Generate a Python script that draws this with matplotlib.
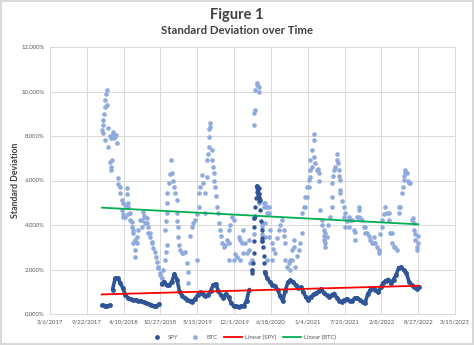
import numpy as np
import pandas as pd
import matplotlib
matplotlib.use('Agg')
import matplotlib.pyplot as plt
from matplotlib.collections import LineCollection
from matplotlib.ticker import FuncFormatter
import matplotlib.dates as mdates

plt.rcParams['font.family'] = ['Lato', 'DejaVu Sans']

# ---- data (percent) ----
# SPY rolling std, sampled every two weeks from 2017-12-15
spy_start = '2017-12-15'
spy_vals = [
    0.40, 0.38, 0.36, 0.40, 1.10, 1.60, 1.62, 1.40, 1.15, 0.85,
    0.72, 0.66, 0.63, 0.62, 0.60, 0.58, 0.54, 0.50, 0.46, 0.40,
    0.36, 0.34, 0.45, 1.35, 1.45, 1.30, 1.30, 1.45, 1.80, 1.55,
    1.00, 0.83, 0.72, 0.65, 0.60, 0.56, 0.68, 0.85, 0.98, 0.88,
    0.80, 0.85, 1.02, 1.30, 1.35, 1.05, 0.85, 0.72, 0.90, 0.75,
    0.50, 0.36, 0.34, 0.33, 0.35, 0.38, 0.60, 1.10, 2.00, 4.30,
    5.75, 5.20, 3.30, 1.90, 1.60, 1.45, 1.32, 1.26, 1.10, 0.82,
    0.58, 1.05, 1.42, 1.52, 1.45, 1.30, 1.17, 1.20, 1.00, 0.75,
    0.62, 0.78, 0.88, 0.93, 1.02, 1.12, 0.95, 0.85, 0.78, 0.85,
    0.92, 0.72, 0.58, 0.56, 0.64, 0.68, 0.60, 0.60, 0.72, 0.72,
    0.62, 0.52, 0.50, 0.90, 1.08, 1.15, 1.08, 0.98, 1.20, 1.40,
    1.50, 1.55, 1.38, 1.55, 1.75, 2.08, 2.10, 1.98, 1.85, 1.45,
    1.32, 1.20, 1.12, 1.22,
]

# extra SPY dots on the March 2020 spike (decimal year, value)
spy_spike_years = [2020.178, 2020.190, 2020.202, 2020.202, 2020.213, 2020.220, 2020.227, 2020.235,
                   2020.252, 2020.252, 2020.265, 2020.265, 2020.277, 2020.277, 2020.287, 2020.302,
                   2020.302, 2020.317, 2020.327, 2020.332, 2020.342, 2020.351, 2020.351, 2020.376]
spy_spike_vals = [1.83, 2.30, 2.73, 3.30, 3.92, 4.40, 4.82, 5.20,
                  5.72, 5.50, 5.60, 5.35, 5.66, 5.10, 5.40, 5.12,
                  4.67, 4.20, 3.78, 3.40, 3.03, 2.60, 2.28, 1.83]

# BTC rolling std, (decimal year, value)
btc_years = [
    2017.946, 2017.958, 2017.970, 2017.970, 2017.981, 2017.988, 2017.995, 2018.010, 2018.025, 2018.021,
    2017.995, 2018.045, 2018.045, 2018.070, 2018.077, 2018.095, 2018.107, 2018.119, 2018.129, 2018.144,
    2018.170, 2018.159, 2018.070, 2018.077, 2018.085, 2018.095,
    2018.193, 2018.193, 2018.219, 2018.219, 2018.244, 2018.244, 2018.256, 2018.268, 2018.268, 2018.293,
    2018.293, 2018.318, 2018.318, 2018.330, 2018.342, 2018.342, 2018.367, 2018.367, 2018.393, 2018.393,
    2018.416, 2018.416, 2018.416, 2018.442, 2018.442, 2018.442, 2018.467, 2018.467, 2018.491, 2018.516,
    2018.541, 2018.541, 2018.565, 2018.576, 2018.591, 2018.591, 2018.616, 2018.616, 2018.640, 2018.640,
    2018.665, 2018.665, 2018.690, 2018.690, 2018.714, 2018.739, 2018.754, 2018.764, 2018.788, 2018.788,
    2018.814, 2018.814, 2018.839,
    2018.858, 2018.888, 2018.903, 2018.913, 2018.888, 2018.903, 2018.922, 2018.922, 2018.922, 2018.952,
    2018.963, 2018.973, 2018.988, 2019.000, 2019.012, 2019.037, 2019.062, 2019.062, 2019.067, 2019.077,
    2019.086, 2019.097, 2019.111, 2019.137, 2019.156, 2019.186, 2019.211, 2019.235, 2019.223,
    2019.260, 2019.286, 2019.305, 2019.335, 2019.360, 2019.364, 2019.384, 2019.384, 2019.409, 2019.434,
    2019.454, 2019.483, 2019.483, 2019.508, 2019.508, 2019.521, 2019.533, 2019.533, 2019.543, 2019.558,
    2019.550, 2019.583, 2019.583, 2019.595, 2019.607, 2019.617, 2019.632, 2019.643, 2019.657, 2019.681,
    2019.692, 2019.707, 2019.719, 2019.732, 2019.756, 2019.781, 2019.806, 2019.830, 2019.830, 2019.830,
    2019.855, 2019.880, 2019.905, 2019.905, 2019.930, 2019.955, 2019.979, 2020.004, 2020.004, 2020.029,
    2020.053, 2020.053, 2020.079, 2020.104, 2020.128, 2020.128, 2020.153, 2020.178, 2020.202,
    2020.202, 2020.202, 2020.227, 2020.227, 2020.252, 2020.252, 2020.277, 2020.277, 2020.252, 2020.277,
    2020.277, 2020.302, 2020.327, 2020.327, 2020.327, 2020.351, 2020.351, 2020.376, 2020.376, 2020.376,
    2020.401, 2020.401, 2020.401, 2020.425, 2020.425, 2020.425, 2020.451, 2020.476, 2020.476, 2020.488,
    2020.525, 2020.550, 2020.574, 2020.600, 2020.625, 2020.648, 2020.659, 2020.674, 2020.674, 2020.699,
    2020.723, 2020.748, 2020.748, 2020.773, 2020.773, 2020.797, 2020.797, 2020.823, 2020.848, 2020.872,
    2020.897, 2020.922, 2020.922, 2020.946, 2020.971, 2020.971, 2020.996, 2020.996, 2021.020, 2021.020,
    2021.046, 2021.046, 2021.046, 2021.071, 2021.071, 2021.095, 2021.095, 2021.105, 2021.120, 2021.145,
    2021.157, 2021.169, 2021.180,
    2021.195, 2021.220, 2021.220, 2021.244, 2021.244, 2021.254, 2021.269, 2021.269, 2021.269, 2021.294,
    2021.314, 2021.343, 2021.369, 2021.369, 2021.369, 2021.381, 2021.393, 2021.418, 2021.443, 2021.443,
    2021.455, 2021.467, 2021.477, 2021.492, 2021.492, 2021.492, 2021.515, 2021.541, 2021.541, 2021.567,
    2021.567, 2021.592, 2021.616, 2021.616, 2021.641, 2021.666, 2021.690, 2021.715, 2021.715, 2021.740,
    2021.764, 2021.764, 2021.764, 2021.790, 2021.815, 2021.839, 2021.864, 2021.864, 2021.889, 2021.913,
    2021.939, 2021.964, 2021.988, 2021.988, 2022.013, 2022.038, 2022.062, 2022.062, 2022.087, 2022.113,
    2022.113, 2022.136, 2022.162, 2022.187, 2022.211, 2022.211, 2022.236, 2022.262, 2022.262, 2022.285,
    2022.311, 2022.336, 2022.360, 2022.360, 2022.385, 2022.410, 2022.422, 2022.434, 2022.445, 2022.459,
    2022.459, 2022.485, 2022.497, 2022.509, 2022.534, 2022.560, 2022.571, 2022.583, 2022.583, 2022.609,
    2022.609, 2022.634, 2022.634, 2022.646, 2022.653,
]
btc_vals = [
    8.27, 8.50, 8.72, 8.12, 9.00, 9.32, 9.60, 9.90, 10.05, 9.40,
    7.82, 8.35, 7.52, 8.00, 7.90, 7.97, 8.10, 8.20, 7.90, 8.00,
    7.67, 8.04, 6.85, 6.60, 6.47, 6.92,
    6.10, 5.85, 5.72, 5.42, 5.12, 4.67, 4.50, 4.97, 4.37, 4.90,
    4.37, 5.65, 5.40, 4.80, 4.97, 4.50, 4.22, 4.53, 3.92, 4.15,
    3.63, 3.78, 3.18, 3.33, 2.88, 2.58, 3.47, 3.20, 3.78, 4.22,
    4.22, 3.92, 4.60, 4.40, 4.37, 4.10, 4.08, 4.30, 3.92, 3.63,
    3.63, 3.47, 3.25, 3.18, 2.95, 2.80, 2.58, 2.35, 2.13, 2.05,
    1.83, 1.75, 1.60,
    2.00, 2.43, 2.80, 3.10, 3.78, 4.20, 4.53, 5.00, 5.42, 5.87,
    6.30, 6.92, 6.32, 6.00, 5.72, 5.42, 5.12, 4.53, 4.20, 3.92,
    3.47, 3.10, 2.88, 2.73, 2.75, 2.80, 2.28, 1.38, 1.90,
    3.50, 3.92, 4.10, 4.22, 2.43, 4.50, 4.82, 5.42, 5.72, 6.25,
    5.90, 5.42, 4.53, 6.17, 6.92, 7.20, 7.52, 7.97, 8.30, 8.57,
    8.40, 7.37, 6.92, 6.60, 6.32, 6.00, 5.72, 5.30, 4.82, 4.53,
    4.10, 3.78, 3.50, 3.18, 3.03, 3.10, 3.33, 2.43, 3.78, 3.20,
    4.00, 4.37, 4.22, 2.43, 2.70, 2.58, 3.47, 3.33, 2.43, 3.18,
    3.78, 2.73, 3.20, 2.73, 3.33, 2.88, 2.28, 2.43, 3.60,
    8.49, 9.02, 9.17, 10.07, 10.29, 10.37, 9.99, 10.20, 5.72, 5.42,
    5.00, 5.12, 4.08, 3.92, 3.60, 4.82, 4.97, 4.97, 4.08, 3.47,
    4.82, 4.53, 2.43, 4.82, 4.53, 3.47, 3.78, 3.18, 2.43, 2.90,
    2.73, 3.40, 3.78, 4.00, 4.22, 3.78, 3.50, 3.18, 2.43, 2.13,
    2.30, 1.98, 2.43, 2.43, 2.88, 3.33, 3.03, 2.13, 2.60, 2.88,
    3.20, 3.63, 4.53, 4.82, 4.82, 5.27, 5.27, 5.72, 5.72, 6.02,
    6.17, 6.47, 6.92, 6.62, 7.37, 7.07, 7.82, 8.10, 6.77, 6.47,
    6.50, 6.32, 6.00,
    4.67, 4.22, 4.00, 3.78, 3.33, 3.50, 3.03, 3.63, 3.18, 3.47,
    4.00, 4.37, 4.82, 5.27, 5.87, 6.20, 6.47, 6.62, 6.92, 7.20,
    6.80, 6.47, 6.20, 6.02, 5.57, 5.42, 5.10, 4.82, 4.37, 4.52,
    3.92, 4.20, 3.92, 4.37, 4.22, 4.22, 3.78, 3.33, 3.70, 4.37,
    4.82, 4.67, 4.37, 4.30, 4.22, 3.92, 3.63, 3.92, 3.63, 3.50,
    3.33, 3.20, 3.18, 3.47, 3.20, 3.03, 2.73, 2.88, 3.60, 4.22,
    3.92, 4.50, 4.82, 4.53, 4.22, 4.53, 3.63, 3.63, 3.18, 3.03,
    3.03, 2.88, 4.53, 4.82, 4.82, 5.42, 5.70, 6.02, 6.20, 6.47,
    6.40, 6.32, 6.00, 5.87, 5.87, 4.22, 4.30, 3.78, 4.10, 3.33,
    3.60, 3.03, 2.88, 3.20, 3.50,
]

# linear trendlines, read at the first and last data dates
trend_years = [2017.946, 2022.653]
spy_trend = [0.88, 1.27]
btc_trend = [4.78, 4.03]

x_tick_labels = ['3/6/2017', '9/22/2017', '4/10/2018', '10/27/2018', '5/15/2019', '12/1/2019',
                 '6/18/2020', '1/4/2021', '7/23/2021', '2/8/2022', '8/27/2022', '3/15/2023']
y_ticks = [0, 2, 4, 6, 8, 10, 12]


def to_dates(years):
    years = np.asarray(years, dtype=float)
    base = pd.Timestamp('2017-01-01')
    return (base + pd.to_timedelta((years - 2017) * 365.25, unit='D')).to_numpy()


spy_dates = pd.date_range(spy_start, periods=len(spy_vals), freq='14D').to_numpy()
spike_dates = to_dates(spy_spike_years)
btc_dates = to_dates(btc_years)
trend_dates = to_dates(trend_years)
tick_dates = pd.to_datetime(x_tick_labels, format='%m/%d/%Y').to_numpy()

SPY_C = '#2F5597'
BTC_C = '#8FAADC'
GRID_C = '#D9D9D9'
TEXT_C = '#595959'

fig = plt.figure(figsize=(4.74, 3.45), dpi=100)
fig.patch.set_edgecolor(GRID_C)
fig.patch.set_linewidth(1.5)
ax = fig.add_axes([50 / 474, 31 / 345, 405 / 474, 267 / 345])

h_btc = ax.scatter(btc_dates, btc_vals, s=11, color=BTC_C, linewidths=0, zorder=2, label='BTC')

# daily dots merge into a thick band where the series moves slowly;
# steep jumps stay as separate dots
sx = mdates.date2num(spy_dates)
sy = np.asarray(spy_vals)
segs = [[(sx[i], sy[i]), (sx[i + 1], sy[i + 1])]
        for i in range(len(sy) - 1) if abs(sy[i + 1] - sy[i]) < 0.6]
ax.add_collection(LineCollection(segs, colors=SPY_C, linewidths=2.6, capstyle='round', zorder=3))
h_spy = ax.scatter(spy_dates, spy_vals, s=12, color=SPY_C, linewidths=0, zorder=3, label='SPY')
ax.scatter(spike_dates, spy_spike_vals, s=10, color=SPY_C, linewidths=0, zorder=3)

h_ts, = ax.plot(trend_dates, spy_trend, color='#FF0000', lw=1.3, zorder=4, label='Linear (SPY)')
h_tb, = ax.plot(trend_dates, btc_trend, color='#00B050', lw=1.3, zorder=4, label='Linear (BTC)')

ax.set_xlim(tick_dates[0], tick_dates[-1])
ax.set_xticks(tick_dates)
ax.set_xticklabels(x_tick_labels)
ax.set_ylim(0, 12)
ax.set_yticks(y_ticks)
ax.yaxis.set_major_formatter(FuncFormatter(lambda v, p: f'{v:.3f}%'))
ax.grid(True, color=GRID_C, lw=0.7)
ax.set_axisbelow(True)
for sp in ax.spines.values():
    sp.set_color(GRID_C)
    sp.set_linewidth(0.7)
ax.tick_params(length=0, labelsize=4.3, colors=TEXT_C, pad=4)

ax.set_ylabel('Standard Deviation', fontsize=6.3, fontweight='bold', color='#404040', labelpad=1)

fig.text(0.5, 1 - 15 / 345, 'Figure 1', ha='center', va='center', fontsize=10.5,
         fontweight='bold', color='#404040')
fig.text(0.5, 1 - 31 / 345, 'Standard Deviation over Time', ha='center', va='center',
         fontsize=8.2, fontweight='bold', color='#404040')

fig.legend(handles=[h_spy, h_btc, h_ts, h_tb], loc='center', bbox_to_anchor=(0.51, 1 - 337 / 345),
           ncol=4, frameon=False, fontsize=4.3, labelcolor=TEXT_C, handlelength=3.0,
           columnspacing=1.2, handletextpad=0.4, markerscale=1.0)

fig.savefig('out.png', dpi=100, facecolor='white', edgecolor=fig.get_edgecolor())
